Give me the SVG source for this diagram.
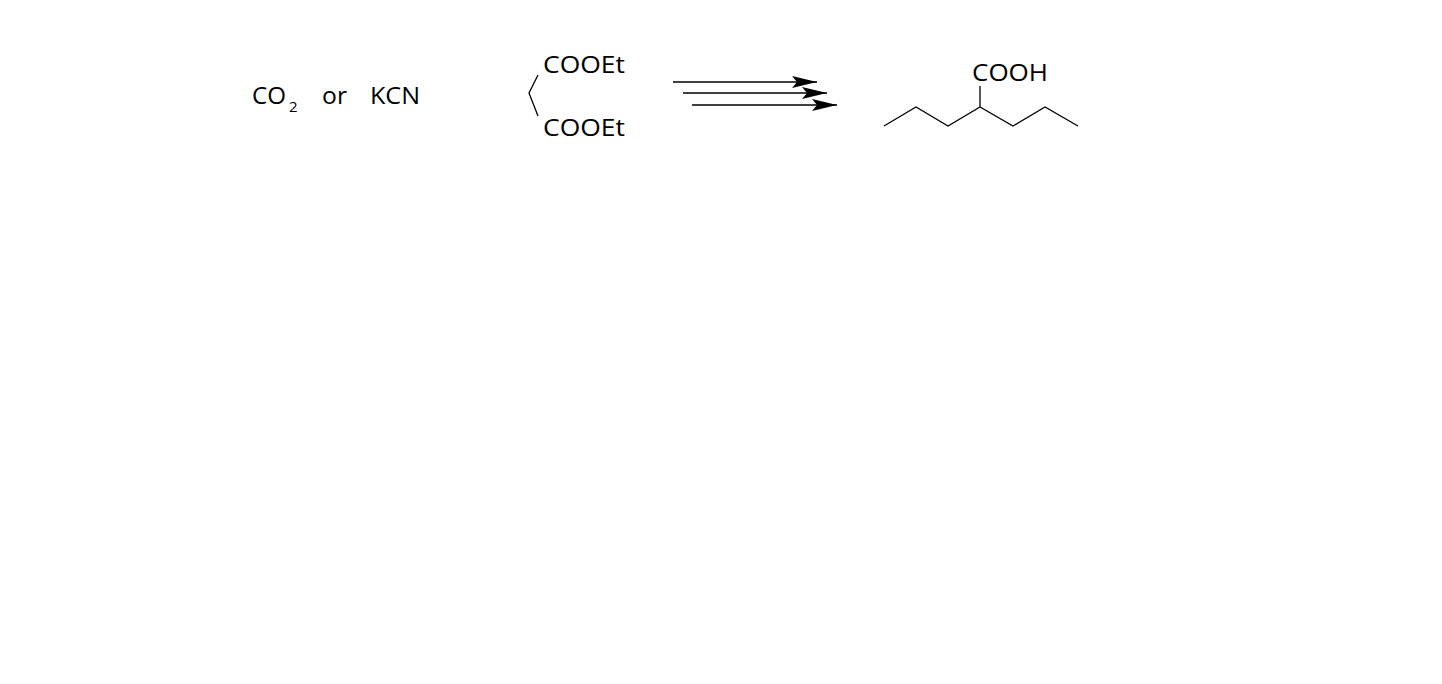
<svg xmlns="http://www.w3.org/2000/svg" width="1442" height="684" viewBox="0 0 1442 684">
<defs><marker id="ah" markerWidth="26" markerHeight="12" refX="25" refY="6" orient="auto" markerUnits="userSpaceOnUse"><path d="M0,0 L25,6 L0,12 L5,6 Z" fill="#000"/></marker></defs>
<style>text{font-family:"Open Sans","Liberation Sans",sans-serif;font-size:23px;fill:#000}.b{fill:none;stroke:#000;stroke-width:1.3}</style>
<rect width="1442" height="684" fill="#fff"/>
<g id="reagent"><text x="252" y="104" textLength="34" lengthAdjust="spacingAndGlyphs">CO</text><text x="289" y="112" style="font-size:15px">2</text><text x="322" y="104" textLength="25" lengthAdjust="spacingAndGlyphs">or</text><text x="370" y="104" textLength="50" lengthAdjust="spacingAndGlyphs">KCN</text></g>
<g id="malonate"><path class="b" d="M538,75 L529,93 L538,116"/><text x="543" y="73" textLength="82" lengthAdjust="spacingAndGlyphs">COOEt</text><text x="543" y="136" textLength="82" lengthAdjust="spacingAndGlyphs">COOEt</text></g>
<g id="connectors"><line class="b" x1="673" y1="82" x2="817" y2="82" marker-end="url(#ah)"/><line class="b" x1="683" y1="93" x2="827" y2="93" marker-end="url(#ah)"/><line class="b" x1="692" y1="105" x2="837" y2="105" marker-end="url(#ah)"/></g>
<g id="product"><path class="b" d="M884,126 L916,107 L948,126 L980,107 L1013,126 L1045,107 L1078,126 M980,107 L980,86"/><text x="972" y="81" textLength="76" lengthAdjust="spacingAndGlyphs">COOH</text></g>
</svg>
